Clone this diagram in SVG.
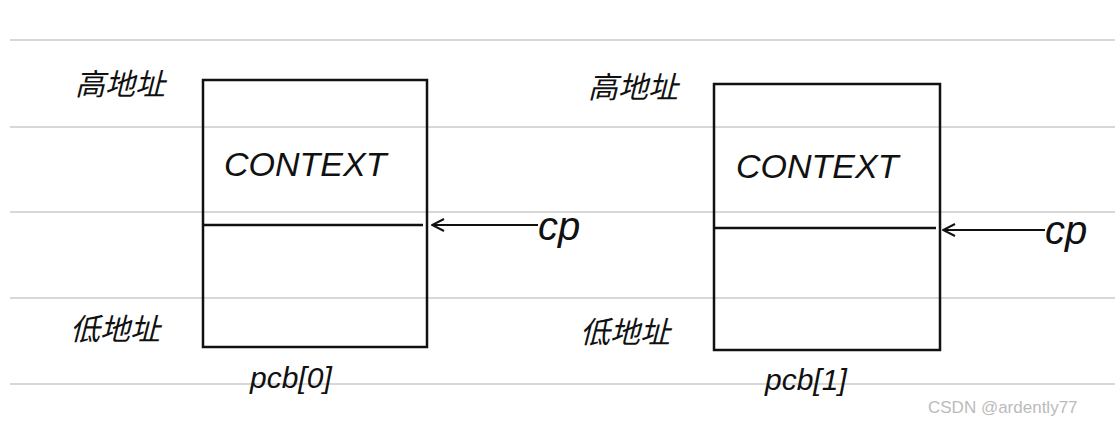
<svg xmlns="http://www.w3.org/2000/svg" width="1115" height="425" viewBox="0 0 1115 425">
<style>
.rule{stroke:#d8d8d8;stroke-width:2}
.box{fill:none;stroke:#111;stroke-width:2.5}
.hw{font-family:"Liberation Sans","Noto Sans CJK SC",sans-serif;fill:#111;font-style:italic}
.cn{font-size:30px}
.ctx{font-size:34px}
.wm{font-family:"Liberation Sans",sans-serif;font-size:17px;fill:#bbb}
</style>
<defs><marker id="ah" markerWidth="14" markerHeight="14" refX="13" refY="7" orient="auto" markerUnits="userSpaceOnUse"><path d="M1,1 L13,7 L1,13" fill="none" stroke="#111" stroke-width="2"/></marker></defs>
<rect width="1115" height="425" fill="#fff"/>
<g id="rules">
<line class="rule" x1="10" y1="40" x2="1115" y2="40"/>
<line class="rule" x1="10" y1="127" x2="1115" y2="127"/>
<line class="rule" x1="10" y1="212" x2="1115" y2="212"/>
<line class="rule" x1="10" y1="298" x2="1115" y2="298"/>
<line class="rule" x1="10" y1="384" x2="1115" y2="384"/>
</g>
<g id="pcb0">
<rect class="box" x="203" y="80" width="224" height="267"/>
<line class="box" x1="203" y1="225" x2="423" y2="225"/>
<text class="hw ctx" x="224" y="176">CONTEXT</text>
<text class="hw cn" x="75" y="95">高地址</text>
<text class="hw cn" x="70" y="340">低地址</text>
<text class="hw cn" x="250" y="388">pcb[0]</text>
</g>
<g id="pcb1">
<rect class="box" x="714" y="84" width="226" height="266"/>
<line class="box" x1="714" y1="228" x2="936" y2="228"/>
<text class="hw ctx" x="736" y="178">CONTEXT</text>
<text class="hw cn" x="588" y="98">高地址</text>
<text class="hw cn" x="580" y="343">低地址</text>
<text class="hw cn" x="765" y="390">pcb[1]</text>
</g>
<g id="connectors">
<path d="M538,225 L432,225" fill="none" stroke="#111" stroke-width="2" marker-end="url(#ah)"/>
<path d="M1045,230 L943,230" fill="none" stroke="#111" stroke-width="2" marker-end="url(#ah)"/>
</g>
<g id="cp-labels">
<text class="hw" font-size="40" x="538" y="240">cp</text>
<text class="hw" font-size="40" x="1045" y="244">cp</text>
</g>
<text class="wm" x="928" y="413">CSDN @ardently77</text>
</svg>
